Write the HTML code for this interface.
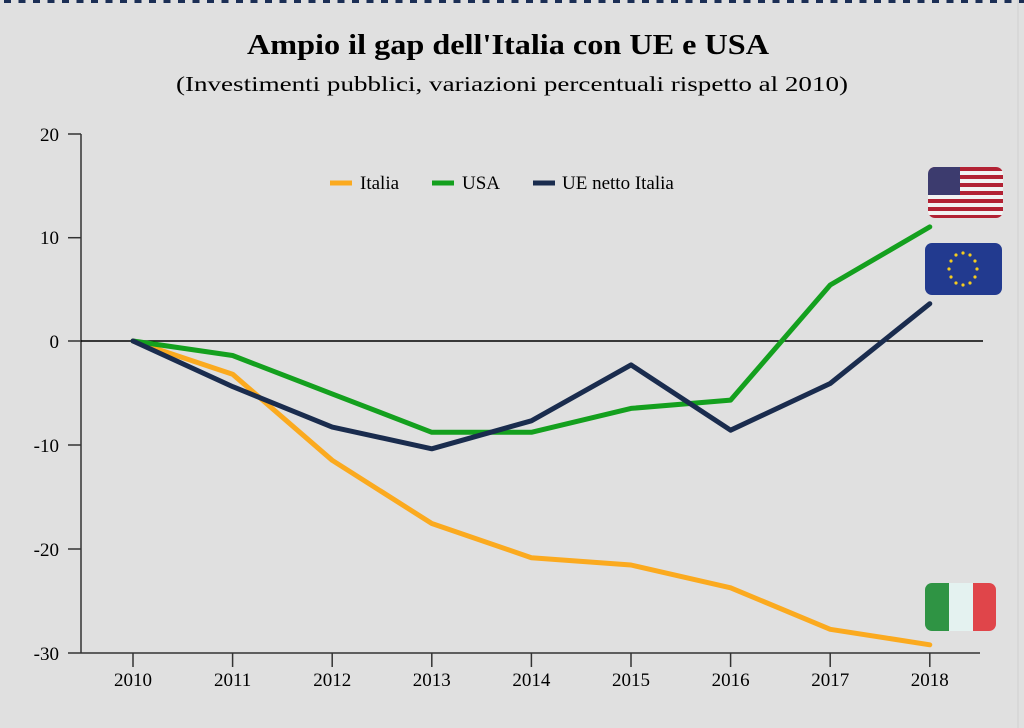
<!DOCTYPE html>
<html><head><meta charset="utf-8"><style>
html,body{margin:0;padding:0;background:#e0e0e0;}
svg{display:block;font-family:"Liberation Serif",serif;}
</style></head><body>
<svg width="1024" height="728" viewBox="0 0 1024 728">
<defs>
<clipPath id="cu"><rect x="928" y="167" width="75" height="51" rx="7"/></clipPath>
<clipPath id="ce"><rect x="925" y="243" width="77" height="52" rx="7"/></clipPath>
<clipPath id="ci"><rect x="925" y="583" width="71" height="48" rx="7"/></clipPath>
</defs>
<rect width="1024" height="728" fill="#e0e0e0"/>
<line x1="0" y1="1.5" x2="1024" y2="1.5" stroke="#1b2e55" stroke-width="3" stroke-dasharray="7 7.5" stroke-dashoffset="-4"/>
<line x1="1018" y1="0" x2="1018" y2="728" stroke="#d0d0d0" stroke-width="1"/>
<text x="508" y="54" text-anchor="middle" font-size="28" font-weight="bold" textLength="522" lengthAdjust="spacingAndGlyphs">Ampio il gap dell'Italia con UE e USA</text>
<text x="512" y="91" text-anchor="middle" font-size="21" textLength="672" lengthAdjust="spacingAndGlyphs">(Investimenti pubblici, variazioni percentuali rispetto al 2010)</text>
<g stroke="#333" stroke-width="1.5" fill="none">
<line x1="81" y1="134" x2="81" y2="653"/>
<line x1="81" y1="653" x2="980" y2="653"/>
<line x1="68" y1="134" x2="81" y2="134"/>
<line x1="68" y1="237.7" x2="81" y2="237.7"/>
<line x1="68" y1="341" x2="81" y2="341"/>
<line x1="68" y1="445" x2="81" y2="445"/>
<line x1="68" y1="549" x2="81" y2="549"/>
<line x1="68" y1="653" x2="81" y2="653"/>
<line x1="133" y1="653" x2="133" y2="667"/><line x1="232.6" y1="653" x2="232.6" y2="667"/><line x1="332.2" y1="653" x2="332.2" y2="667"/><line x1="431.8" y1="653" x2="431.8" y2="667"/><line x1="531.4" y1="653" x2="531.4" y2="667"/><line x1="631" y1="653" x2="631" y2="667"/><line x1="730.6" y1="653" x2="730.6" y2="667"/><line x1="830.2" y1="653" x2="830.2" y2="667"/><line x1="929.8" y1="653" x2="929.8" y2="667"/>
</g>
<line x1="81" y1="341" x2="983" y2="341" stroke="#000" stroke-width="1.5"/>
<g font-size="19" text-anchor="end">
<text x="59" y="141">20</text><text x="59" y="244">10</text><text x="59" y="348">0</text><text x="59" y="452">-10</text><text x="59" y="556">-20</text><text x="59" y="660">-30</text>
</g>
<g font-size="19" text-anchor="middle">
<text x="133" y="686">2010</text><text x="232.6" y="686">2011</text><text x="332.2" y="686">2012</text><text x="431.8" y="686">2013</text><text x="531.4" y="686">2014</text><text x="631" y="686">2015</text><text x="730.6" y="686">2016</text><text x="830.2" y="686">2017</text><text x="929.8" y="686">2018</text>
</g>
<g fill="none" stroke-width="5" stroke-linecap="round" stroke-linejoin="round">
<polyline stroke="#fbaa1f" points="133,341 232.6,374.2 332.2,460.3 431.8,523.5 531.4,557.7 631,565 730.6,587.8 830.2,629.3 929.8,644.8"/>
<polyline stroke="#14a01e" points="133,341 232.6,355.5 332.2,393.9 431.8,432.3 531.4,432.3 631,408.4 730.6,400.1 830.2,285 929.8,226.9"/>
<polyline stroke="#1a2c4e" points="133,341 232.6,386.6 332.2,427.1 431.8,448.8 531.4,420.8 631,364.9 730.6,430.2 830.2,383.5 929.8,303.7"/>
</g>
<g stroke-width="5">
<line x1="330" y1="183" x2="352" y2="183" stroke="#fbaa1f"/>
<line x1="432" y1="183" x2="454" y2="183" stroke="#14a01e"/>
<line x1="533" y1="183" x2="555" y2="183" stroke="#1a2c4e"/>
</g>
<g font-size="19">
<text x="360" y="189">Italia</text><text x="462" y="189">USA</text><text x="562" y="189">UE netto Italia</text>
</g>
<g clip-path="url(#cu)">
<rect x="928" y="167" width="75" height="51" fill="#f2f2f2"/>
<g fill="#b22234">
<rect x="928" y="167" width="75" height="4"/><rect x="928" y="175" width="75" height="4"/><rect x="928" y="183" width="75" height="4"/><rect x="928" y="191" width="75" height="4"/><rect x="928" y="199" width="75" height="4"/><rect x="928" y="207" width="75" height="4"/><rect x="928" y="215" width="75" height="4"/>
</g>
<rect x="928" y="167" width="32" height="28" fill="#3c3b6e"/>
</g>
<g clip-path="url(#ce)">
<rect x="925" y="243" width="77" height="52" fill="#223a8f"/>
<g fill="#f5cc1e">
<circle cx="963" cy="253" r="1.6"/><circle cx="970" cy="255" r="1.6"/><circle cx="975" cy="261" r="1.6"/><circle cx="977" cy="269" r="1.6"/><circle cx="975" cy="277" r="1.6"/><circle cx="970" cy="283" r="1.6"/><circle cx="963" cy="285" r="1.6"/><circle cx="956" cy="283" r="1.6"/><circle cx="951" cy="277" r="1.6"/><circle cx="949" cy="269" r="1.6"/><circle cx="951" cy="261" r="1.6"/><circle cx="956" cy="255" r="1.6"/>
</g>
</g>
<g clip-path="url(#ci)">
<rect x="925" y="583" width="24" height="48" fill="#2f9444"/>
<rect x="949" y="583" width="24" height="48" fill="#e4f2f0"/>
<rect x="973" y="583" width="23" height="48" fill="#e0454a"/>
</g>
</svg>
</body></html>
